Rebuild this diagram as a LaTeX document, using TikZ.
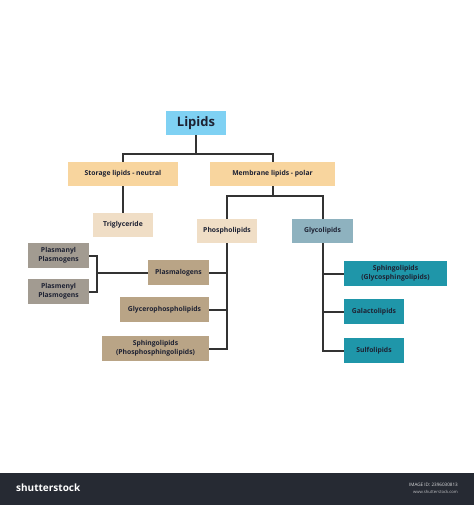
\documentclass[tikz,border=0pt]{standalone}
\usepackage{fontspec}
\setmainfont{Open Sans}
\definecolor{txt}{HTML}{1E2233}
\definecolor{cLip}{HTML}{7FD1F3}
\definecolor{cOr}{HTML}{F8D59E}
\definecolor{cBe}{HTML}{F0DEC6}
\definecolor{cGly}{HTML}{8EB2BF}
\definecolor{cGr}{HTML}{A29B91}
\definecolor{cTan}{HTML}{B9A486}
\definecolor{cTeal}{HTML}{1F96A9}
\definecolor{cLine}{HTML}{333333}
\definecolor{cBar}{HTML}{262A33}
\tikzset{
  box/.style={rectangle, inner sep=0pt, align=center, text=txt,
    font=\fontsize{6.8bp}{8.8bp}\selectfont\bfseries, minimum height=24bp},
  conn/.style={draw=cLine, line width=2bp}
}
\begin{document}
\begin{tikzpicture}[x=1bp,y=-1bp]
\useasboundingbox (0,0) rectangle (474,505);
\fill[white] (0,0) rectangle (474,505);
% nodes
\node[box, fill=cLip, minimum width=60bp, font=\fontsize{13bp}{15bp}\selectfont\bfseries] (lip) at (196,123) {Lipids};
\node[box, fill=cOr, minimum width=110bp] (sto) at (123,174) {Storage lipids - neutral};
\node[box, fill=cOr, minimum width=125bp] (mem) at (272.5,174) {Membrane lipids - polar};
\node[box, fill=cBe, minimum width=60bp] (tri) at (123,225) {Triglyceride};
\node[box, fill=cBe, minimum width=60bp] (pho) at (227,231) {Phospholipids};
\node[box, fill=cGly, minimum width=61bp] (gly) at (322.5,231) {Glycolipids};
\node[box, fill=cGr, minimum width=61bp, minimum height=25bp] (pn1) at (58.5,255.5) {Plasmanyl\\Plasmogens};
\node[box, fill=cGr, minimum width=61bp, minimum height=25bp] (pn2) at (58.5,291.5) {Plasmenyl\\Plasmogens};
\node[box, fill=cTan, minimum width=61bp, minimum height=25bp] (plm) at (178.5,272.5) {Plasmalogens};
\node[box, fill=cTan, minimum width=89bp, minimum height=25bp] (gph) at (164.5,309.5) {Glycerophospholipids};
\node[box, fill=cTan, minimum width=107bp, minimum height=25bp] (sph) at (155.5,348.5) {Sphingolipids\\(Phosphosphingolipids)};
\node[box, fill=cTeal, minimum width=103bp, minimum height=25bp] (sgl) at (395.5,273.5) {Sphingolipids\\(Glycosphingolipids)};
\node[box, fill=cTeal, minimum width=60bp, minimum height=25bp] (gal) at (374,311.5) {Galactolipids};
\node[box, fill=cTeal, minimum width=60bp, minimum height=25bp] (sul) at (374,350.5) {Sulfolipids};
% connectors
\draw[conn] (lip.south) -- ++(0,19) -| (sto.north);
\draw[conn] (lip.south) -- ++(0,19) -| (mem.north);
\draw[conn] (sto.south) -- (tri.north);
\draw[conn] (mem.south) -- ++(0,10) -| (pho.north);
\draw[conn] (mem.south) -- ++(0,10) -| (gly.north);
\draw[conn] (pho.south) |- (plm.east);
\draw[conn] (pho.south) |- (gph.east);
\draw[conn] (pho.south) |- (sph.east);
\draw[conn] (plm.west) -- ++(-51,0) coordinate (br);
\draw[conn] (pn1.east) -| (br);
\draw[conn] (pn2.east) -| (br);
\draw[conn] (gly.south) |- (sgl.west);
\draw[conn] (gly.south) |- (gal.west);
\draw[conn] (gly.south) |- (sul.west);
% bottom bar
\fill[cBar] (0,473) rectangle (474,505);
\node[anchor=west, text=white, font=\fontsize{10bp}{12bp}\selectfont\bfseries, inner sep=0pt] (logo) at (16,487.5) {shutterstock};
\node[anchor=east, text=white!85!cBar, font=\fontsize{4.6bp}{5.5bp}\selectfont, inner sep=0pt] (imgid) at (458,485) {IMAGE ID: 2396030813};
\node[anchor=east, text=white!70!cBar, font=\fontsize{4.2bp}{5bp}\selectfont, inner sep=0pt] (www) at (458,492) {www.shutterstock.com};
\end{tikzpicture}
\end{document}
